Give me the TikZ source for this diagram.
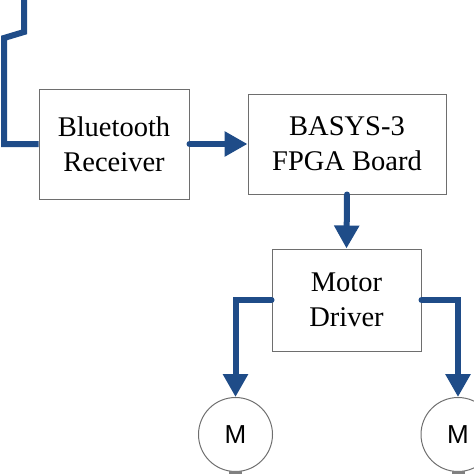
\documentclass[tikz,border=0pt]{standalone}
\usepackage{fontspec}
\setmainfont{Liberation Serif}
\newfontfamily\motorfont{Liberation Sans}
\usetikzlibrary{arrows.meta, positioning}
\definecolor{wireblue}{RGB}{31,76,136}
\definecolor{boxgray}{RGB}{110,110,110}

\begin{document}
\begin{tikzpicture}[x=1pt, y=-1pt,
    block/.style={rectangle, draw=boxgray, line width=1pt, align=center,
      font=\fontsize{28.5}{35}\selectfont, inner sep=0pt},
    motor/.style={circle, draw=boxgray, line width=1pt, minimum size=74pt,
      inner sep=0pt, font=\motorfont\fontsize{26}{30}\selectfont},
    wire/.style={wireblue, line width=6pt, line cap=round},
    >={Triangle[length=23pt, width=24pt]}]

  \useasboundingbox (0,0) rectangle (474,474);

  \node[block, minimum width=150pt, minimum height=110pt] (bt) at (114,144) {Bluetooth\\Receiver};
  \node[block, minimum width=198pt, minimum height=100pt] (fpga) at (347,144) {BASYS-3\\FPGA Board};
  \node[block, minimum width=149pt, minimum height=102pt] (drv) at (346.5,300) {Motor\\Driver};
  \node[motor] (ml) at (235.5,434.5) {M};
  \node[motor] (mr) at (458,434.5) {M};

  % shaft stubs under the motors
  \fill[gray] (229,471) rectangle (242,474);
  \fill[gray] (452,471) rectangle (465,474);

  % antenna
  \coordinate (ant) at (24,-4);
  \draw[wire, line cap=butt] (ant) -- (24,32) -- (4,38) |- (bt.west);

  \draw[wire, ->] (bt.east) -- (fpga.west);
  \draw[wire, ->] (fpga.south) -- (drv.north);
  \draw[wire, ->] (drv.west) -| (ml.north);
  \draw[wire, ->] (drv.east) -| (mr.north);
\end{tikzpicture}
\end{document}
